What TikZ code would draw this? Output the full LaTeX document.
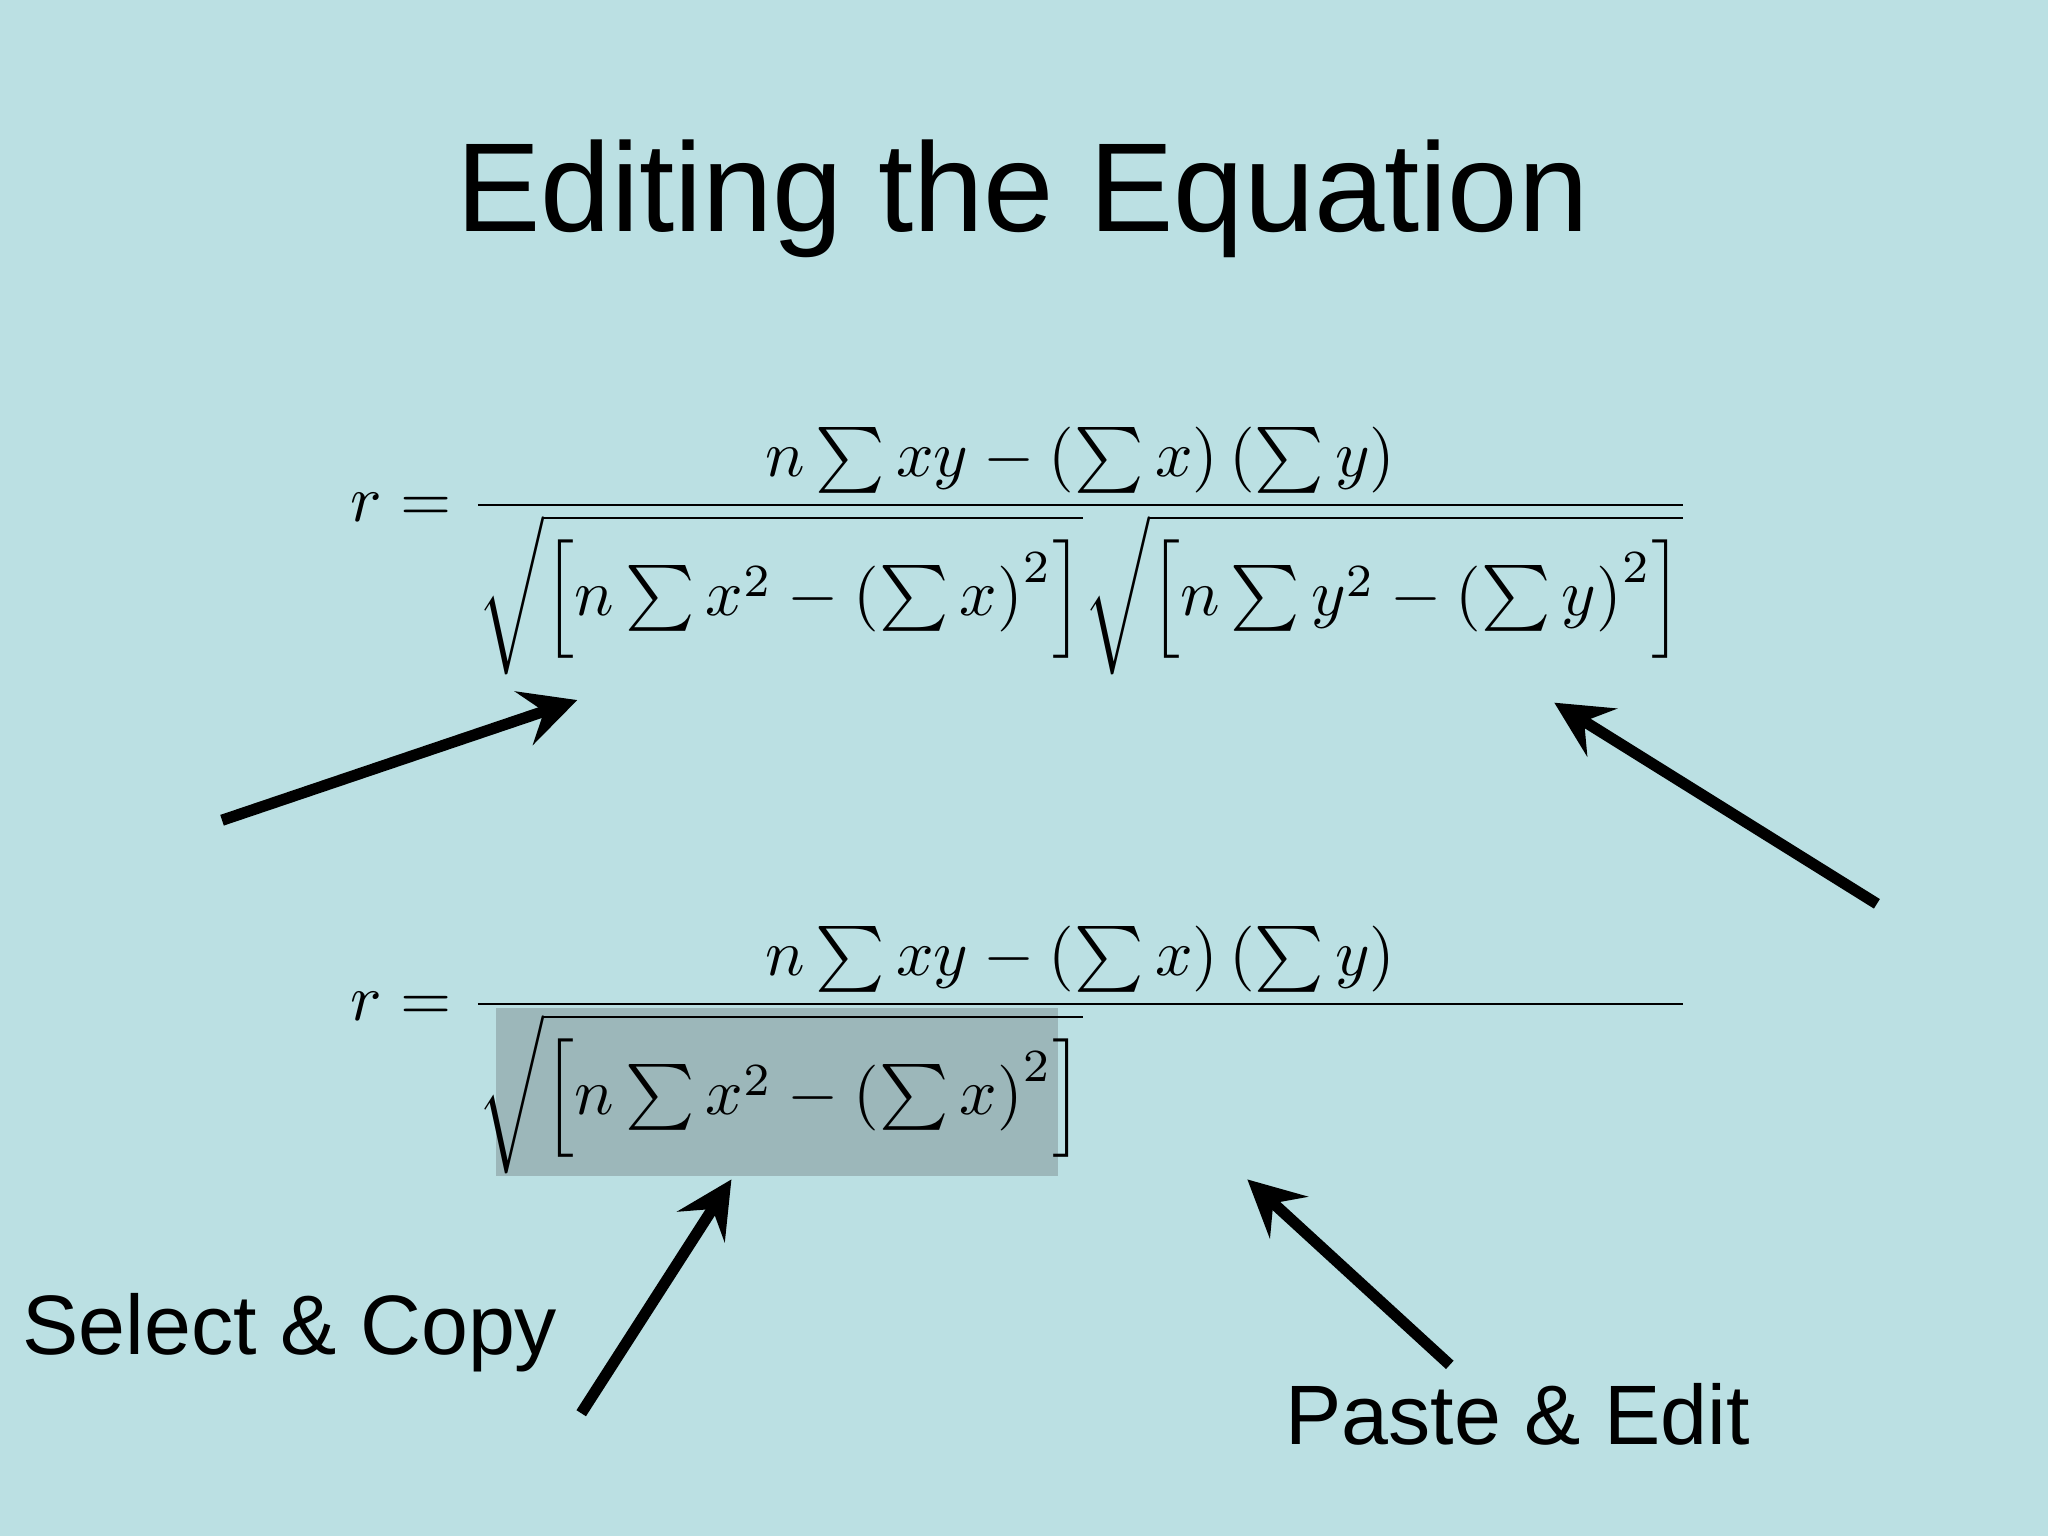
\documentclass[tikz,border=0pt]{standalone}
\usepackage{fontspec}
\usepackage{amsmath}
\setmainfont{Liberation Sans}
\usetikzlibrary{arrows.meta}
\definecolor{bg}{HTML}{BBE0E3}
\definecolor{hl}{HTML}{9CB7BA}
\newcommand{\numer}{n\sum xy-\left(\sum x\right)\left(\sum y\right)}
\newcommand{\sqa}{\sqrt{\left[n\sum x^2-\left(\sum x\right)^2\right]}}
\newcommand{\sqb}{\sqrt{\left[n\sum y^2-\left(\sum y\right)^2\right]}}
\begin{document}
\begin{tikzpicture}[x=0.013061cm,y=-0.013061cm,
  arr/.style={line width=3.2pt,-{Stealth[length=16pt,width=16pt,inset=6pt]}},
  lab/.style={font=\fontsize{24}{28}\selectfont}]
\fill[bg] (0,0) rectangle (1568,1176);
\node (title) at (783,152) {\fontsize{36}{42}\selectfont Editing the Equation};
\node[anchor=west,inner sep=0] (eq1) at (268,422) {\resizebox{13.4cm}{!}{$\displaystyle r=\frac{\numer}{\sqa\sqb}$}};
\fill[hl] (380,772) rectangle (810,900);
\node[anchor=west,inner sep=0] (eq2) at (268,804) {\resizebox{13.4cm}{!}{$\displaystyle r=\frac{\numer}{\sqa\phantom{\sqb}}$}};
\coordinate (a1s) at (170,628); \coordinate (a1e) at (442,536);
\coordinate (a2s) at (1437,692); \coordinate (a2e) at (1190,538);
\coordinate (a3s) at (445,1082); \coordinate (a3e) at (560,903);
\coordinate (a4s) at (1110,1045); \coordinate (a4e) at (955,903);
\draw[arr] (a1s) -- (a1e);
\draw[arr] (a2s) -- (a2e);
\draw[arr] (a3s) -- (a3e);
\draw[arr] (a4s) -- (a4e);
\node[lab] (sel) at (222,1020) {Select \& Copy};
\node[lab] (pas) at (1162,1083) {Paste \& Edit};
\end{tikzpicture}
\end{document}
